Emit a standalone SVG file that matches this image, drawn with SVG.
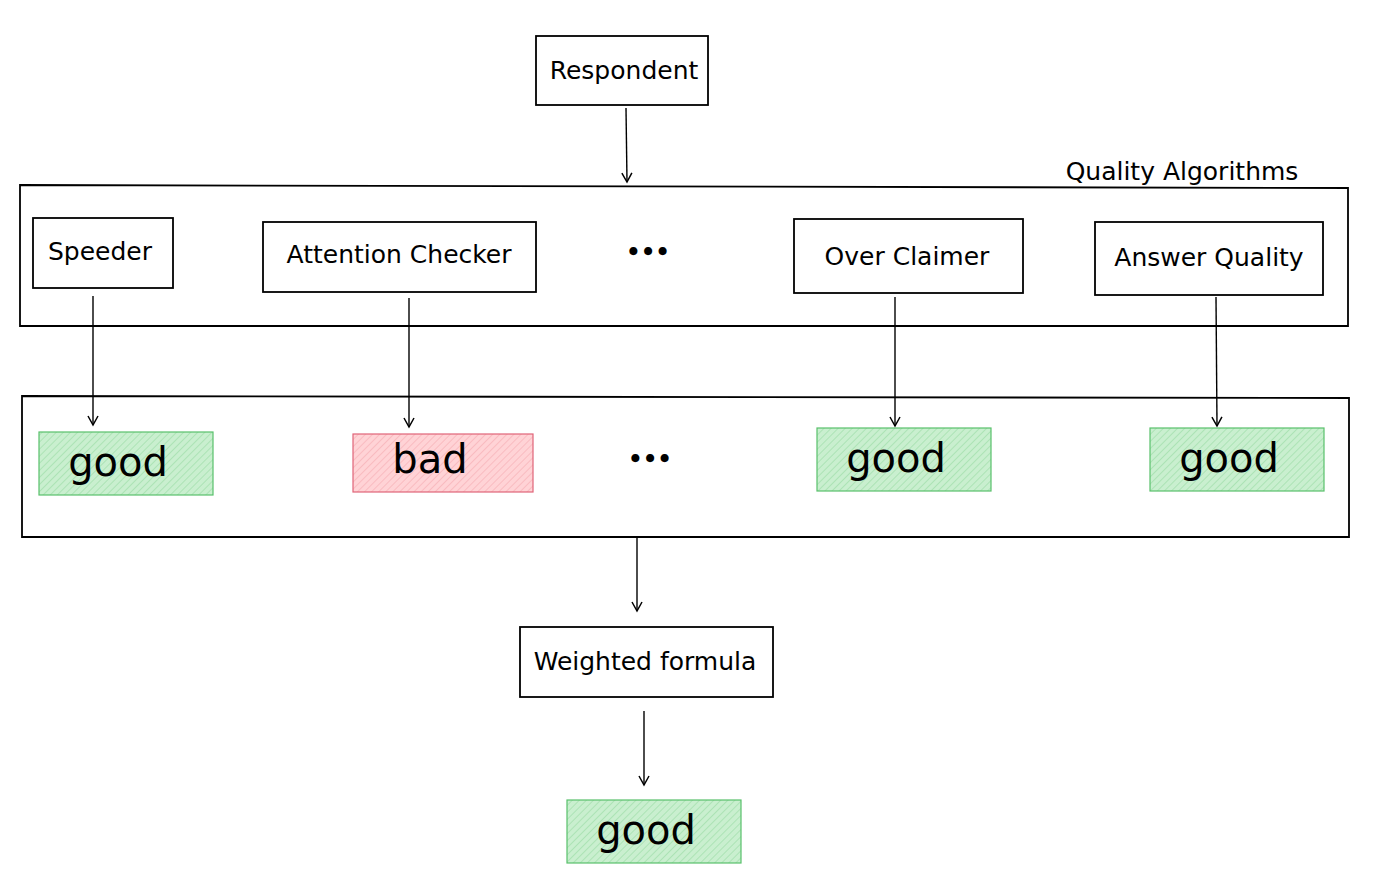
<svg xmlns="http://www.w3.org/2000/svg" width="1400" height="891" viewBox="0 0 1400 891">
<defs>
<pattern id="hg" patternUnits="userSpaceOnUse" width="5" height="5" patternTransform="rotate(45)">
<rect width="5" height="5" fill="#c9efcf"/>
<line x1="0" y1="0" x2="0" y2="5" stroke="#8fd89b" stroke-width="1"/>
</pattern>
<pattern id="hr" patternUnits="userSpaceOnUse" width="5" height="5" patternTransform="rotate(45)">
<rect width="5" height="5" fill="#ffd3d6"/>
<line x1="0" y1="0" x2="0" y2="5" stroke="#f3a3ab" stroke-width="1"/>
</pattern>
<marker id="ah" markerWidth="12" markerHeight="12" refX="10" refY="6" orient="auto" markerUnits="userSpaceOnUse">
<path d="M1,1 L10,6 L1,11" fill="none" stroke="#000" stroke-width="1.5"/>
</marker>
</defs>
<style>
.box{fill:#fff;stroke:#000;stroke-width:1.8}
.cont{fill:none;stroke:#000;stroke-width:1.8}
.g{fill:url(#hg);stroke:#59c06b;stroke-width:1.2}
.b{fill:url(#hr);stroke:#e06478;stroke-width:1.2}
.t{font-family:"DejaVu Sans",sans-serif;font-size:25px;fill:#000;text-anchor:middle;dominant-baseline:central}
.v{font-family:"DejaVu Sans",sans-serif;font-size:40px;fill:#000;text-anchor:middle;dominant-baseline:central}
.dots{font-family:"DejaVu Sans",sans-serif;font-size:23px;font-weight:bold;fill:#000;text-anchor:middle;dominant-baseline:central}
.c{stroke:#000;stroke-width:1.4;fill:none;marker-end:url(#ah)}
</style>
<rect width="1400" height="891" fill="#fff"/>
<g id="quality-algorithms">
<path class="cont" d="M20,185 L1348,188 L1348,326 L20,326 Z"/>
<text class="t" x="1182" y="171">Quality Algorithms</text>
</g>
<g id="results">
<path class="cont" d="M22,396 L1349,398 L1349,537 L22,537 Z"/>
</g>
<g id="respondent"><rect class="box" x="536" y="36" width="172" height="69"/><text class="t" x="624" y="70">Respondent</text></g>
<g id="speeder"><rect class="box" x="33" y="218" width="140" height="70"/><text class="t" x="100" y="251">Speeder</text></g>
<g id="attention-checker"><rect class="box" x="263" y="222" width="273" height="70"/><text class="t" x="399" y="254">Attention Checker</text></g>
<g id="dots1"><text class="dots" x="648" y="252">•••</text></g>
<g id="over-claimer"><rect class="box" x="794" y="219" width="229" height="74"/><text class="t" x="907" y="256">Over Claimer</text></g>
<g id="answer-quality"><rect class="box" x="1095" y="222" width="228" height="73"/><text class="t" x="1209" y="257">Answer Quality</text></g>
<g id="good1"><rect class="g" x="39" y="432" width="174" height="63"/><text class="v" x="118" y="462">good</text></g>
<g id="bad"><rect class="b" x="353" y="434" width="180" height="58"/><text class="v" x="430" y="459">bad</text></g>
<g id="dots2"><text class="dots" x="650" y="459">•••</text></g>
<g id="good2"><rect class="g" x="817" y="428" width="174" height="63"/><text class="v" x="896" y="458">good</text></g>
<g id="good3"><rect class="g" x="1150" y="428" width="174" height="63"/><text class="v" x="1229" y="458">good</text></g>
<g id="weighted-formula"><rect class="box" x="520" y="627" width="253" height="70"/><text class="t" x="645" y="661">Weighted formula</text></g>
<g id="good-final"><rect class="g" x="567" y="800" width="174" height="63"/><text class="v" x="646" y="830">good</text></g>
<g id="connectors">
<line class="c" x1="626" y1="108" x2="627" y2="182"/>
<line class="c" x1="93" y1="296" x2="93" y2="425"/>
<line class="c" x1="409" y1="298" x2="409" y2="427"/>
<line class="c" x1="895" y1="297" x2="895" y2="426"/>
<line class="c" x1="1216" y1="297" x2="1217" y2="426"/>
<line class="c" x1="637" y1="538" x2="637" y2="611"/>
<line class="c" x1="644" y1="711" x2="644" y2="785"/>
</g>
</svg>
